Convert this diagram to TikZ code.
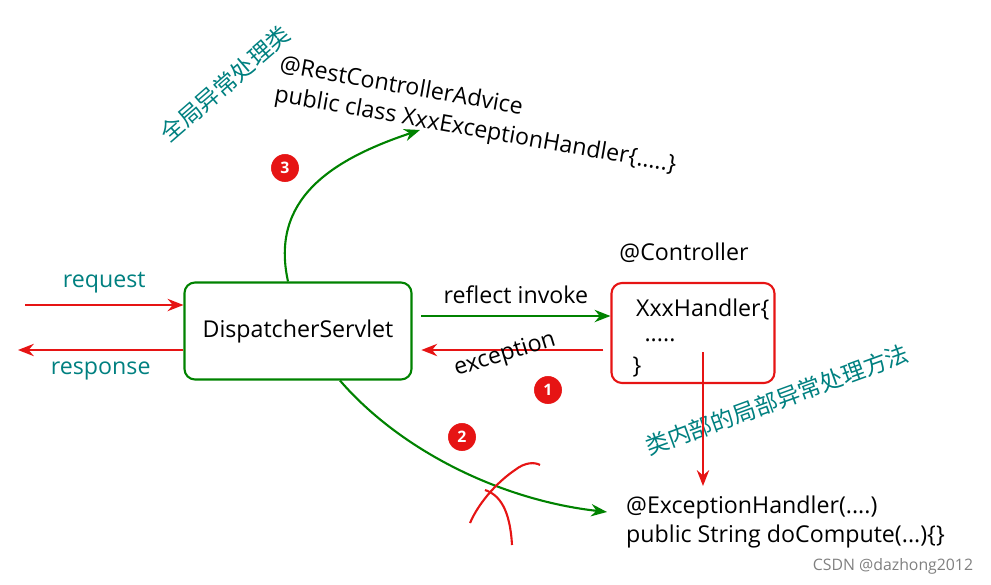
\documentclass[tikz,border=0pt]{standalone}
\usepackage{fontspec}
\setmainfont{Open Sans}
\newfontfamily\cjk{Noto Sans CJK SC}
\usetikzlibrary{arrows.meta}
\definecolor{tealtxt}{RGB}{0,128,128}
\definecolor{grn}{RGB}{0,130,0}
\definecolor{rd}{RGB}{230,20,20}
\tikzstyle{box}= [rectangle,draw,rounded corners=6pt,line width=1.2pt]
\tikzstyle{num}= [circle,fill=rd,draw=white,line width=1pt,text=white,font=\bfseries\small,inner sep=1.5pt,minimum size=17pt]
\tikzstyle{lbl}= [font=\fontsize{13.2}{17}\selectfont]
\tikzstyle{garr}= [grn,line width=1.2pt,-{Stealth[length=9pt,width=7pt]}]
\tikzstyle{rarr}= [rd,line width=1.2pt,-{Stealth[length=9pt,width=7pt]}]

\begin{document}
\begin{tikzpicture}[x=0.02cm,y=-0.02cm]
		\useasboundingbox (0,0) rectangle (991,585);

		\node (ds) at (298,331) [box,draw=grn,minimum width=227*0.02cm,minimum height=97*0.02cm,lbl] {DispatcherServlet};
		\node (xh) at (693,333) [box,draw=rd,minimum width=163*0.02cm,minimum height=100*0.02cm] {};
		\node at (630,310) [lbl,anchor=west] {XxxHandler\{};
		\node at (660,340) [lbl] {.....};
		\node at (637,367) [lbl] {\}};
		\node at (684,253) [lbl] {@Controller};

		\node (adv) at (478,116) [lbl,rotate=-10,align=left] {@RestControllerAdvice\\public class XxxExceptionHandler\{.....\}};
		\node (eh) at (620,522) [lbl,anchor=west,align=left] {@ExceptionHandler(....)\\public String doCompute(...)\{\}};

		\node at (225,84) [lbl,tealtxt,rotate=41] {\cjk 全局异常处理类};
		\node at (777,400) [lbl,tealtxt,rotate=20] {\cjk 类内部的局部异常处理方法};

		\coordinate (reqa) at (25,305);
		\coordinate (resb) at (18,350);
		\coordinate (ehin) at (607,512);
		\coordinate (advin) at (420,130);
		\coordinate (hx) at (703,352);
		\coordinate (hy) at (703,486);

		\draw[rarr] (reqa) -- node[above=3pt,tealtxt,lbl] {request} (ds.west |- reqa);
		\draw[rarr] (ds.west |- resb) -- node[below=3pt,tealtxt,lbl] {response} (resb);
		\draw[garr] ([xshift=5pt]ds.east |- 0,316) -- node[above=3pt,lbl,black] {reflect invoke} (xh.west |- 0,316);
		\draw[rarr] ([xshift=-4pt]xh.west |- 0,350) -- ([xshift=5pt]ds.east |- 0,350);
		\node at (505,355) [lbl,rotate=17] {exception};
		\draw[rarr] (hx) -- (hy);
		\draw[garr] (ds.north -| 288,0) .. controls (270,200) and (330,160) .. (advin);
		\draw[garr] (ds.south -| 340,0) .. controls (400,450) and (500,500) .. (ehin);

		% hand-drawn cross
		\draw[rd,line width=1.2pt] (470,523) .. controls (480,500) and (500,480) .. (515,470) .. controls (525,462) and (535,462) .. (540,465);
		\draw[rd,line width=1.2pt] (485,490) .. controls (500,495) and (510,510) .. (512,545);

		\node at (548,390) [num] {1};
		\node at (462,437) [num] {2};
		\node at (285,168) [num] {3};

		\node at (893,566) [gray,font=\small] {CSDN @dazhong2012};
\end{tikzpicture}
\end{document}
